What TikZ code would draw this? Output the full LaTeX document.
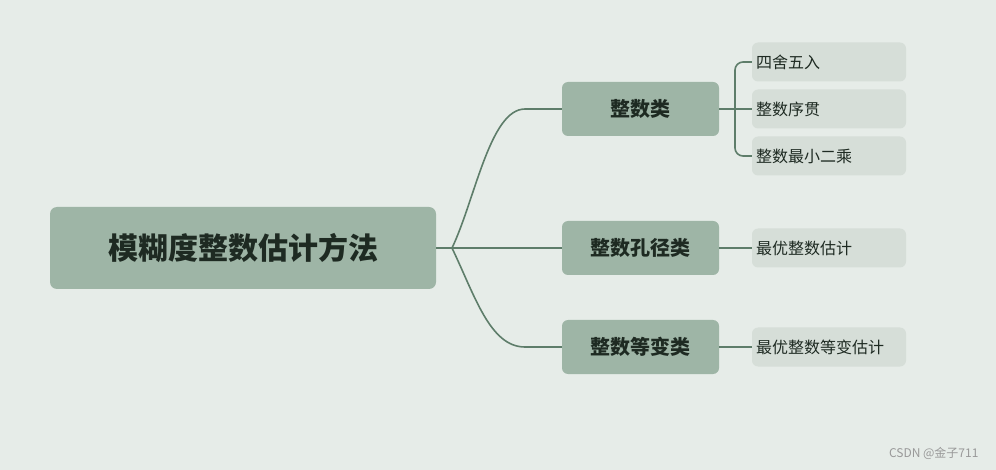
\documentclass[tikz,border=0pt]{standalone}
\usepackage{fontspec}
\setmainfont{Noto Sans CJK SC}
\definecolor{bg}{HTML}{E6ECE8}
\definecolor{mid}{HTML}{9EB5A6}
\definecolor{leaf}{HTML}{D6DED8}
\definecolor{ln}{HTML}{5E7D6A}
\definecolor{tx}{HTML}{1E2A22}
\begin{document}
\begin{tikzpicture}[x=1pt,y=-1pt,
  rootbox/.style={fill=mid,rounded corners=7pt,minimum width=386pt,minimum height=82pt,font=\bfseries\fontsize{30}{34}\selectfont,text=tx},
  midbox/.style={fill=mid,rounded corners=6pt,minimum width=157pt,minimum height=54pt,font=\bfseries\fontsize{20}{24}\selectfont,text=tx},
  leafbox/.style={fill=leaf,rounded corners=6pt,minimum width=154pt,minimum height=39pt,font=\fontsize{16}{19}\selectfont,text=tx,text width=146pt,align=left},
  conn/.style={draw=ln,line width=1.6pt}]
\fill[bg] (0,0) rectangle (996,470);
\node[rootbox] (root) at (243,248) {模糊度整数估计方法};
\node[midbox] (m1) at (640.5,109) {整数类};
\node[midbox] (m2) at (640.5,248) {整数孔径类};
\node[midbox] (m3) at (640.5,347) {整数等变类};
\node[leafbox] (l1) at (829,62) {四舍五入};
\node[leafbox] (l2) at (829,109) {整数序贯};
\node[leafbox] (l3) at (829,156) {整数最小二乘};
\node[leafbox] (l4) at (829,248) {最优整数估计};
\node[leafbox] (l5) at (829,347) {最优整数等变估计};
\coordinate (r0) at (452,248);
\coordinate (b1) at (735,109);
\draw[conn] (root.east) -- (r0);
\draw[conn] (r0) .. controls (475,200) and (490,109) .. (525,109) -- (m1.west);
\draw[conn] (r0) -- (m2.west);
\draw[conn] (r0) .. controls (475,296) and (490,347) .. (525,347) -- (m3.west);
\draw[conn] (m1.east) -- (b1);
\draw[conn,rounded corners=8pt] (l1.west) -- (b1 |- l1.west) -- (b1 |- l3.west) -- (l3.west);
\draw[conn] (b1) -- (l2.west);
\draw[conn] (m2.east) -- (l4.west);
\draw[conn] (m3.east) -- (l5.west);
\node[text=gray!80,font=\fontsize{12}{14}\selectfont,anchor=east] (wm) at (982,453) {CSDN @金子711};
\end{tikzpicture}
\end{document}
